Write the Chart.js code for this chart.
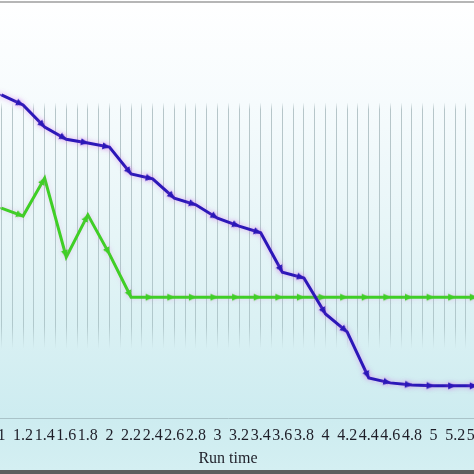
<!DOCTYPE html>
<html>
<head>
<meta charset="utf-8">
<title>Run time</title>
<script src="https://cdn.jsdelivr.net/npm/chart.js@4.4.1/dist/chart.umd.min.js"></script>
<style>
  html, body { margin: 0; padding: 0; width: 474px; height: 474px; overflow: hidden; background: #5e5e5e; position: relative; }
  #wrap { position: absolute; left: -64px; top: 0; width: 584px; height: 470px; }
  #topline { position: absolute; left: 0; top: 1px; width: 474px; height: 2px; background: #b6b6b6; }
</style>
</head>
<body>
<div id="wrap"><canvas id="graph"></canvas></div>
<div id="topline"></div>
<script>
/* values */
var runTime = [1, 1.2, 1.4, 1.6, 1.8, 2, 2.2, 2.4, 2.6, 2.8, 3, 3.2, 3.4, 3.6, 3.8, 4, 4.2, 4.4, 4.6, 4.8, 5, 5.2, 5.4, 5.6];
var blueValues = [77.3, 74.9, 69.6, 66.7, 65.8, 64.8, 58.4, 57.2, 52.6, 51.0, 47.8, 45.9, 44.3, 34.9, 33.5, 24.9, 20.6, 9.6, 8.4, 7.9, 7.7, 7.7, 7.7, 7.7];
var greenValues = [50.2, 48.3, 57.4, 38.5, 48.6, 39.2, 28.9, 28.9, 28.9, 28.9, 28.9, 28.9, 28.9, 28.9, 28.9, 28.9, 28.9, 28.9, 28.9, 28.9, 28.9, 28.9, 28.9, 28.9];

var blue = '#2b17b8';
var green = '#3fcf26';

function toPoints(values) {
    return values.map(function (v, i) { return { x: runTime[i], y: v }; });
}

// little arrow head, tip at the centre of the image
function arrowHead(colour) {
    var c = document.createElement('canvas');
    c.width = 20;
    c.height = 10;
    var g = c.getContext('2d');
    g.fillStyle = colour;
    g.beginPath();
    g.moveTo(3, 1.5);
    g.lineTo(10.5, 5);
    g.lineTo(3, 8.5);
    g.closePath();
    g.fill();
    return c;
}

// point the arrow along the segment coming into the point
function arrowAngle(ctx) {
    var i = ctx.dataIndex;
    if (i === undefined || i === 0) return 0;
    var xs = ctx.chart.scales.x, ys = ctx.chart.scales.y;
    var d = ctx.dataset.data;
    var dx = xs.getPixelForValue(d[i].x) - xs.getPixelForValue(d[i - 1].x);
    var dy = ys.getPixelForValue(d[i].y) - ys.getPixelForValue(d[i - 1].y);
    return Math.atan2(dy, dx) * 180 / Math.PI;
}

function gridColour(c) {
    var ca = c.chart.chartArea;
    if (!ca) return 'rgba(0,0,0,0)';
    var g = c.chart.ctx.createLinearGradient(0, ca.top, 0, ca.bottom);
    g.addColorStop(0, 'rgba(120,145,150,0)');
    g.addColorStop(0.245, 'rgba(120,145,150,0)');
    g.addColorStop(0.262, 'rgba(120,145,150,0.5)');
    g.addColorStop(0.78, 'rgba(120,145,150,0.42)');
    g.addColorStop(0.835, 'rgba(120,145,150,0)');
    g.addColorStop(1, 'rgba(120,145,150,0)');
    return g;
}

var backdrop = {
    id: 'backdrop',
    beforeDraw: function (chart) {
        var ctx = chart.ctx;
        var g = ctx.createLinearGradient(0, 0, 0, chart.height);
        g.addColorStop(0, '#ffffff');
        g.addColorStop(0.22, '#f6fbfd');
        g.addColorStop(0.5, '#e6f5f7');
        g.addColorStop(0.89, '#cdecf0');
        g.addColorStop(1, '#d4eff2');
        ctx.save();
        ctx.fillStyle = g;
        ctx.fillRect(0, 0, chart.width, chart.height);
        ctx.restore();
    }
};

var glow = {
    id: 'glow',
    beforeDatasetDraw: function (chart, args) {
        var ctx = chart.ctx;
        ctx.save();
        ctx.shadowColor = args.index === 0 ? 'rgba(210,90,230,0.5)' : 'rgba(230,120,220,0.25)';
        ctx.shadowBlur = 5;
    },
    afterDatasetDraw: function (chart) {
        chart.ctx.restore();
    }
};

var graph = document.getElementById('graph').getContext('2d');

var myChart = new Chart(graph, {
    type: 'line',
    data: {
        datasets: [{
            data: toPoints(blueValues),
            borderColor: blue,
            borderWidth: 3,
            tension: 0,
            pointStyle: arrowHead(blue),
            pointRadius: 4,
            pointRotation: arrowAngle,
        }, {
            data: toPoints(greenValues),
            borderColor: green,
            borderWidth: 3,
            tension: 0,
            pointStyle: arrowHead(green),
            pointRadius: 4,
            pointRotation: arrowAngle,
        }],
    },
    options: {
        responsive: true,
        maintainAspectRatio: false,
        animation: false,
        events: [],
        layout: { padding: 0, autoPadding: false },
        plugins: {
            legend: { display: false },
            tooltip: { enabled: false },
        },
        scales: {
            x: {
                type: 'linear',
                min: 0.3944,
                max: 5.8,
                afterFit: function (s) {
                    s.height = 52;
                    s.paddingLeft = 0;
                    s.paddingRight = 0;
                },
                ticks: {
                    stepSize: 0.1,
                    autoSkip: false,
                    maxRotation: 0,
                    minRotation: 0,
                    includeBounds: false,
                    padding: 8,
                    color: '#1e1e28',
                    font: { family: 'Liberation Serif', size: 16 },
                    callback: function (v) {
                        var tenth = Math.round(v * 10);
                        return tenth % 2 === 0 ? String(tenth / 10) : '';
                    },
                },
                grid: { drawTicks: false, color: gridColour, lineWidth: 1 },
                border: { display: true, color: '#a9c3c8', width: 1 },
                title: {
                    display: true,
                    text: 'Run time',
                    color: '#1e1e28',
                    font: { family: 'Liberation Serif', size: 16 },
                    padding: { top: 0, bottom: 2 },
                },
            },
            y: {
                display: false,
                min: 0,
                max: 100,
            },
        },
    },
    plugins: [backdrop, glow],
});
</script>
</body>
</html>
